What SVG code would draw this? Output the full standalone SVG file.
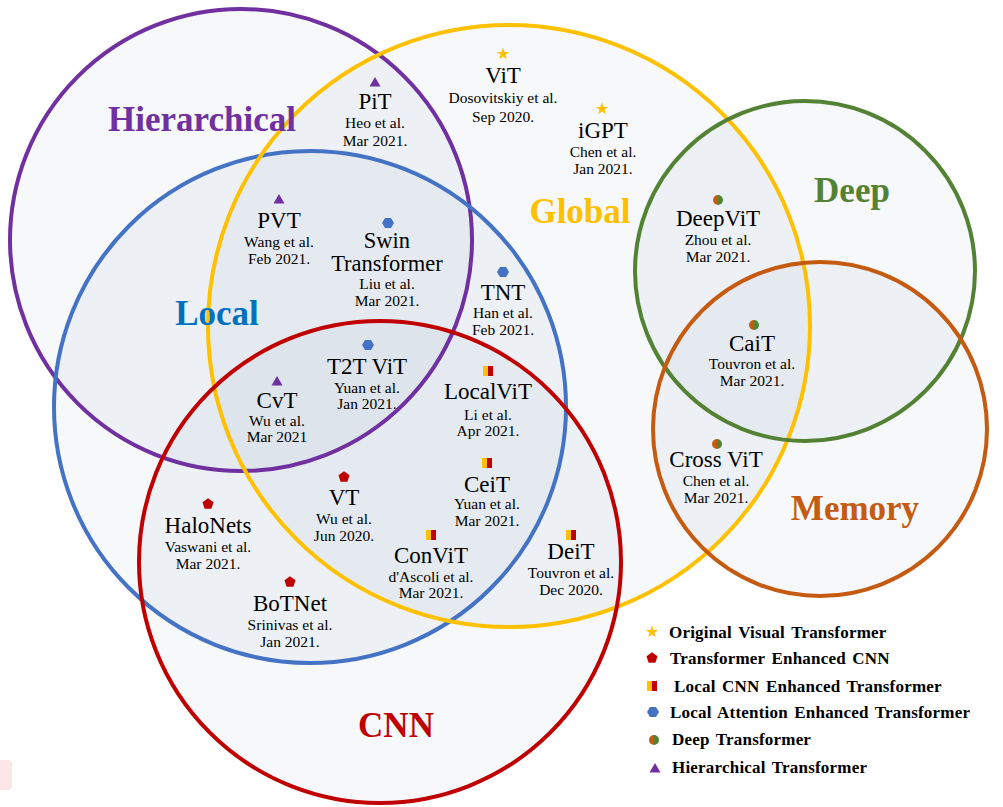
<svg xmlns="http://www.w3.org/2000/svg" xmlns:xlink="http://www.w3.org/1999/xlink" width="1003" height="807" viewBox="0 0 1003 807">
<style>
.fill{fill:rgb(100,120,170);fill-opacity:0.055;stroke:none}
.ring{fill:none;stroke-width:4}
.set{font-family:"Liberation Serif","Times New Roman",serif;font-weight:bold;font-size:35px;text-anchor:middle}
.nm{font-family:"Liberation Serif","Times New Roman",serif;font-size:23px;text-anchor:middle;fill:#000}
.au{font-family:"Liberation Serif","Times New Roman",serif;font-size:15.5px;text-anchor:middle;fill:#000}
.lg{font-family:"Liberation Serif","Times New Roman",serif;font-weight:bold;font-size:17px;word-spacing:2px;letter-spacing:0.2px;fill:#000}
</style>
<defs>
<symbol id="star" overflow="visible"><polygon points="0,-6.5 1.6,-2.1 6.2,-2 2.5,0.8 3.8,5.3 0,2.6 -3.8,5.3 -2.5,0.8 -6.2,-2 -1.6,-2.1" fill="#ffc000"/></symbol>
<symbol id="pent" overflow="visible"><polygon points="0,-5.8 5.5,-1.8 3.4,4.7 -3.4,4.7 -5.5,-1.8" fill="#c00000"/></symbol>
<symbol id="sq" overflow="visible"><rect x="-5" y="-5" width="5" height="10" fill="#ffc000"/><rect x="0" y="-5" width="5" height="10" fill="#c00000"/></symbol>
<symbol id="hex" overflow="visible"><polygon points="-6,0 -3,-5 3,-5 6,0 3,5 -3,5" fill="#4472c4"/></symbol>
<symbol id="dot" overflow="visible"><path d="M0,-5 A5,5 0 0 0 0,5 Z" fill="#c55a11"/><path d="M0,-5 A5,5 0 0 1 0,5 Z" fill="#548235"/></symbol>
<symbol id="tri" overflow="visible"><polygon points="0,-5 5.5,4.5 -5.5,4.5" fill="#7030a0"/></symbol>
</defs>
<rect width="1003" height="807" fill="#ffffff"/>
<rect x="-8" y="760" width="20" height="30" rx="4" fill="#fde6e6"/>
<g id="sets">
<circle class="fill" cx="241" cy="240" r="231"/>
<circle class="fill" cx="310" cy="407" r="256"/>
<circle class="fill" cx="509" cy="326" r="301"/>
<circle class="fill" cx="380" cy="562" r="241"/>
<circle class="fill" cx="805" cy="271" r="170"/>
<circle class="fill" cx="820" cy="429" r="167"/>
<circle class="ring" cx="241" cy="240" r="231" stroke="#7030a0"/>
<circle class="ring" cx="310" cy="407" r="256" stroke="#4472c4"/>
<circle class="ring" cx="509" cy="326" r="301" stroke="#ffc000"/>
<circle class="ring" cx="380" cy="562" r="241" stroke="#c00000"/>
<circle class="ring" cx="805" cy="271" r="170" stroke="#548235"/>
<circle class="ring" cx="820" cy="429" r="167" stroke="#c55a11"/>
<text class="set" x="202" y="131" fill="#7030a0">Hierarchical</text>
<text class="set" x="217" y="325" fill="#0070c0">Local</text>
<text class="set" x="580" y="223" fill="#ffc000">Global</text>
<text class="set" x="852" y="202" fill="#548235">Deep</text>
<text class="set" x="855" y="520" fill="#c55a11">Memory</text>
<text class="set" x="396" y="737" fill="#c00000">CNN</text>
</g>
<g id="connectors"></g>
<g id="node-pit"><use href="#tri" x="375" y="82"/><text class="nm" x="375" y="109">PiT</text><text class="au" x="375" y="128">Heo et al.</text><text class="au" x="375" y="146">Mar 2021.</text></g>
<g id="node-vit"><use href="#star" x="503" y="54"/><text class="nm" x="503" y="83">ViT</text><text class="au" x="503" y="103">Dosovitskiy et al.</text><text class="au" x="503" y="122">Sep 2020.</text></g>
<g id="node-igpt"><use href="#star" x="602" y="109"/><text class="nm" x="603" y="138">iGPT</text><text class="au" x="603" y="157">Chen et al.</text><text class="au" x="603" y="174">Jan 2021.</text></g>
<g id="node-pvt"><use href="#tri" x="279" y="199"/><text class="nm" x="279" y="228">PVT</text><text class="au" x="279" y="247">Wang et al.</text><text class="au" x="279" y="264">Feb 2021.</text></g>
<g id="node-swin"><use href="#hex" x="388" y="223"/><text class="nm" x="387" y="248" style="font-size:22.5px">Swin</text><text class="nm" x="387" y="271" style="font-size:22.5px">Transformer</text><text class="au" x="387" y="289">Liu et al.</text><text class="au" x="387" y="306">Mar 2021.</text></g>
<g id="node-tnt"><use href="#hex" x="503" y="272"/><text class="nm" x="503" y="300">TNT</text><text class="au" x="503" y="318">Han et al.</text><text class="au" x="503" y="335">Feb 2021.</text></g>
<g id="node-deepvit"><use href="#dot" x="718" y="200"/><text class="nm" x="718" y="226">DeepViT</text><text class="au" x="718" y="245">Zhou et al.</text><text class="au" x="718" y="262">Mar 2021.</text></g>
<g id="node-cait"><use href="#dot" x="754" y="325"/><text class="nm" x="752" y="351">CaiT</text><text class="au" x="752" y="369">Touvron et al.</text><text class="au" x="752" y="386">Mar 2021.</text></g>
<g id="node-crossvit"><use href="#dot" x="717" y="444"/><text class="nm" x="716" y="467">Cross ViT</text><text class="au" x="716" y="486">Chen et al.</text><text class="au" x="716" y="503">Mar 2021.</text></g>
<g id="node-t2t"><use href="#hex" x="368" y="345"/><text class="nm" x="367" y="374">T2T ViT</text><text class="au" x="367" y="393">Yuan et al.</text><text class="au" x="367" y="409">Jan 2021.</text></g>
<g id="node-cvt"><use href="#tri" x="277" y="381"/><text class="nm" x="277" y="408">CvT</text><text class="au" x="277" y="426">Wu et al.</text><text class="au" x="277" y="442">Mar 2021</text></g>
<g id="node-localvit"><use href="#sq" x="488" y="371"/><text class="nm" x="488" y="399">LocalViT</text><text class="au" x="488" y="420">Li et al.</text><text class="au" x="488" y="436">Apr 2021.</text></g>
<g id="node-ceit"><use href="#sq" x="487" y="463"/><text class="nm" x="487" y="492">CeiT</text><text class="au" x="487" y="509">Yuan et al.</text><text class="au" x="487" y="526">Mar 2021.</text></g>
<g id="node-vt"><use href="#pent" x="344" y="477"/><text class="nm" x="344" y="505">VT</text><text class="au" x="344" y="524">Wu et al.</text><text class="au" x="344" y="541">Jun 2020.</text></g>
<g id="node-halonets"><use href="#pent" x="208" y="504"/><text class="nm" x="208" y="533">HaloNets</text><text class="au" x="208" y="552">Vaswani et al.</text><text class="au" x="208" y="569">Mar 2021.</text></g>
<g id="node-convit"><use href="#sq" x="431" y="535"/><text class="nm" x="431" y="563">ConViT</text><text class="au" x="431" y="582">d'Ascoli et al.</text><text class="au" x="431" y="598">Mar 2021.</text></g>
<g id="node-deit"><use href="#sq" x="571" y="535"/><text class="nm" x="571" y="559">DeiT</text><text class="au" x="571" y="578">Touvron et al.</text><text class="au" x="571" y="595">Dec 2020.</text></g>
<g id="node-botnet"><use href="#pent" x="290" y="582"/><text class="nm" x="290" y="611">BoTNet</text><text class="au" x="290" y="630">Srinivas et al.</text><text class="au" x="290" y="647">Jan 2021.</text></g>
<g id="legend">
<use href="#star" x="652" y="632"/><text class="lg" x="669" y="638">Original Visual Transformer</text>
<use href="#pent" x="652" y="658"/><text class="lg" x="670" y="664">Transformer Enhanced CNN</text>
<use href="#sq" x="652" y="686"/><text class="lg" x="674" y="692">Local CNN Enhanced Transformer</text>
<use href="#hex" x="653" y="712"/><text class="lg" x="670" y="718">Local Attention Enhanced Transformer</text>
<use href="#dot" x="654" y="740"/><text class="lg" x="672" y="745">Deep Transformer</text>
<use href="#tri" x="655" y="768"/><text class="lg" x="672" y="773">Hierarchical Transformer</text>
</g>
</svg>
